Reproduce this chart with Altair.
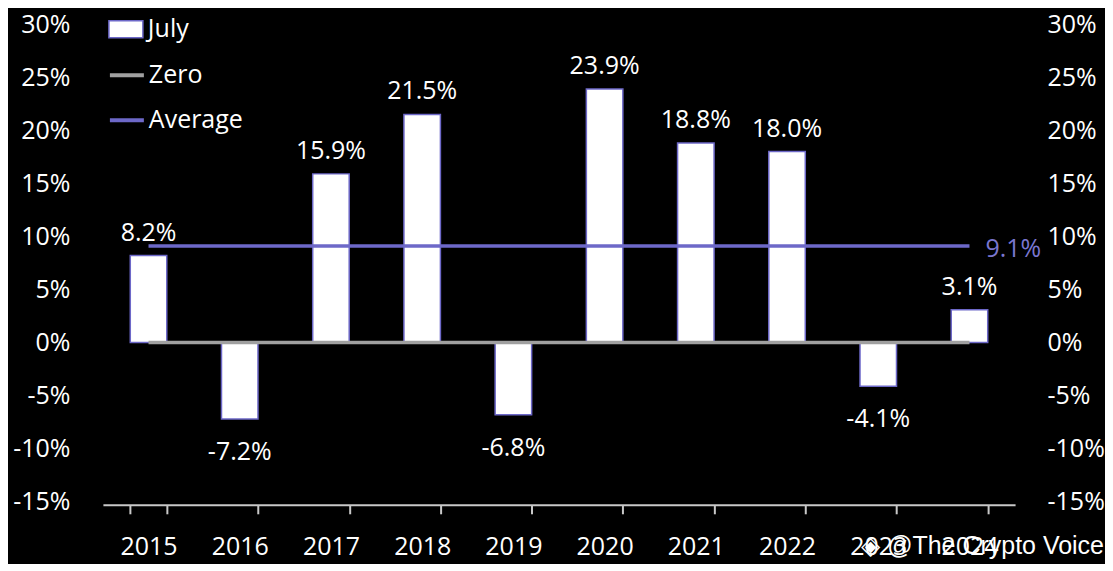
import altair as alt
import pandas as pd

# ---- data ----
years = ["2015", "2016", "2017", "2018", "2019", "2020", "2021", "2022", "2023", "2024"]
july = [8.2, -7.2, 15.9, 21.5, -6.8, 23.9, 18.8, 18.0, -4.1, 3.1]
zero_line = [0, 0, 0, 0, 0, 0, 0, 0, 0, 0]
average_line = [9.1, 9.1, 9.1, 9.1, 9.1, 9.1, 9.1, 9.1, 9.1, 9.1]
y_ticks = [-15, -10, -5, 0, 5, 10, 15, 20, 25, 30]

FONT = "Open Sans"
PURPLE = "#6d68c8"
PURPLE_TXT = "#7a76cf"
GRAY = "#a0a0a0"
AXIS_GRAY = "#c8c8c8"

bars_df = pd.DataFrame({"year": years, "july": july, "bar_series": ["July"] * len(years)})
lines_df = pd.concat([
    pd.DataFrame({"year": years, "value": zero_line, "line_series": ["Zero"] * len(years)}),
    pd.DataFrame({"year": years, "value": average_line, "line_series": ["Average"] * len(years)}),
])
avg_label_df = pd.DataFrame({"year": [years[-1]], "value": [average_line[-1]]})

yscale = alt.Scale(domain=[-15, 30], nice=False, zero=False)
xscale = alt.Scale(paddingInner=0.6, paddingOuter=0.3)

x_axis = alt.Axis(
    title=None, labelAngle=0, labelFont=FONT, labelFontSize=25, labelColor="white",
    domainColor=AXIS_GRAY, domainWidth=2, tickColor=AXIS_GRAY, tickWidth=2, tickSize=9,
    tickBand="extent", labelPadding=21, offset=3, grid=False,
)
y_axis_left = alt.Axis(
    title=None, values=y_ticks, labelExpr="datum.value + '%'", labelFont=FONT,
    labelFontSize=25, labelColor="white", domain=False, ticks=False, grid=False,
    labelPadding=33,
)
y_axis_right = alt.Axis(
    title=None, orient="right", values=y_ticks, labelExpr="datum.value + '%'", labelFont=FONT,
    labelFontSize=25, labelColor="white", domain=False, ticks=False, grid=False,
    labelPadding=32,
)

X = alt.X("year:N", scale=xscale, axis=x_axis, sort=years)

bars = alt.Chart(bars_df).mark_bar(stroke=PURPLE, strokeWidth=1.5).encode(
    x=X,
    y=alt.Y("july:Q", scale=yscale, axis=y_axis_left),
    fill=alt.Fill(
        "bar_series:N",
        scale=alt.Scale(domain=["July"], range=["white"]),
        legend=alt.Legend(
            title=None, orient="none", legendX=5, legendY=-13,
            symbolType="M-1,-0.5L1,-0.5L1,0.5L-1,0.5Z", symbolSize=1156,
            symbolStrokeColor=PURPLE, symbolStrokeWidth=1.5, symbolFillColor="white",
            labelFont=FONT, labelFontSize=25, labelColor="white", labelOffset=4, padding=0,
        ),
    ),
)

lines = alt.Chart(lines_df).mark_line(strokeWidth=3.5).encode(
    x=alt.X("year:N", sort=years),
    y=alt.Y("value:Q", scale=yscale),
    detail="line_series:N",
    stroke=alt.Stroke(
        "line_series:N",
        scale=alt.Scale(domain=["Zero", "Average"], range=[GRAY, PURPLE]),
        legend=alt.Legend(
            title=None, orient="none", legendX=5, legendY=32,
            symbolType="stroke", symbolSize=1156, symbolStrokeWidth=4,
            labelFont=FONT, labelFontSize=25, labelColor="white", labelOffset=3,
            rowPadding=13, padding=0,
        ),
    ),
)

label_base = alt.Chart(bars_df).transform_calculate(
    lbl="(datum.july < 0 ? '-' : '') + format(abs(datum.july), '.1f') + '%'"
)
pos_labels = label_base.transform_filter("datum.july >= 0").mark_text(
    baseline="alphabetic", dy=-15, font=FONT, fontSize=25, color="white"
).encode(x=alt.X("year:N", sort=years), y=alt.Y("july:Q", scale=yscale), text="lbl:N")
neg_labels = label_base.transform_filter("datum.july < 0").mark_text(
    baseline="top", dy=21, font=FONT, fontSize=25, color="white"
).encode(x=alt.X("year:N", sort=years), y=alt.Y("july:Q", scale=yscale), text="lbl:N")

avg_label = alt.Chart(avg_label_df).transform_calculate(
    lbl="format(datum.value, '.1f') + '%'"
).mark_text(
    align="left", baseline="middle", dx=16, dy=3, font=FONT, fontSize=25, color=PURPLE_TXT
).encode(x=alt.X("year:N", sort=years), y=alt.Y("value:Q", scale=yscale), text="lbl:N")

watermark = alt.Chart(avg_label_df).mark_text(
    align="right", baseline="middle", font="Liberation Sans", fontSize=25, color="white"
).encode(x=alt.value(1002), y=alt.value(522), text=alt.value("◈  @The Crypto Voice"))

main = alt.layer(bars, lines, pos_labels, neg_labels, avg_label, watermark)

right_axis = alt.Chart(bars_df).mark_point(opacity=0).encode(
    x=alt.X("year:N", sort=years),
    y=alt.Y("july:Q", scale=yscale, axis=y_axis_right),
)

chart = alt.layer(main, right_axis).resolve_scale(y="independent").properties(
    width=913,
    height=478,
    autosize=alt.AutoSizeParams(type="none"),
    padding={"left": 95, "top": 16, "right": 90, "bottom": 62},
    background="#000000",
).configure_view(stroke=None)

chart.save("out.html", embed_options={"renderer": "svg", "actions": False})
